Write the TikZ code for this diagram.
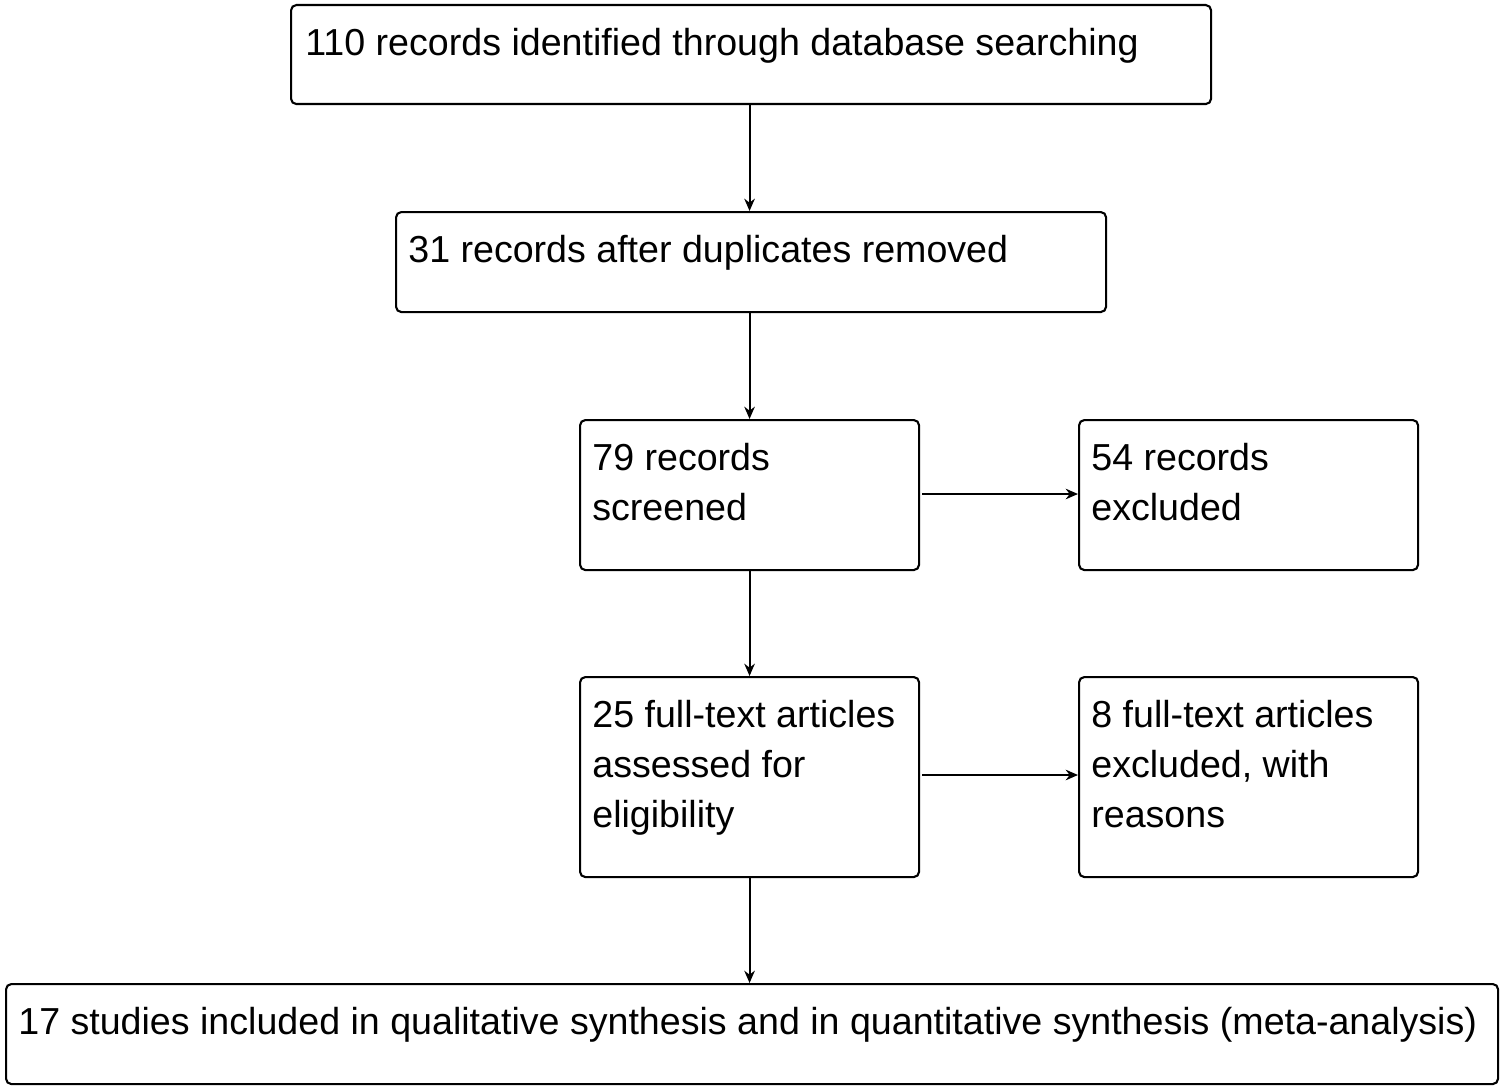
\documentclass[tikz,border=0pt]{standalone}
\usepackage{fontspec}
\setmainfont{Liberation Sans}
\usetikzlibrary{arrows.meta}
\begin{document}
\begin{tikzpicture}[x=0.02cm,y=-0.02cm,
  box/.style={draw,line width=1.2pt,rounded corners=3pt,inner sep=0pt,anchor=north west},
  txt/.style={anchor=north west,inner sep=0pt,align=left,font=\fontsize{21.4}{28.45}\selectfont},
  arr/.style={-{Stealth[length=7pt,width=6pt]},line width=1.2pt}]
\useasboundingbox (0,0) rectangle (1500,1088);
\node[box,minimum width=920*0.02cm,minimum height=99*0.02cm] (b1) at (290,4) {};
\node[box,minimum width=710*0.02cm,minimum height=100*0.02cm] (b2) at (395,211) {};
\node[box,minimum width=339*0.02cm,minimum height=150*0.02cm] (b3) at (579,419) {};
\node[box,minimum width=339*0.02cm,minimum height=150*0.02cm] (b4) at (1078,419) {};
\node[box,minimum width=339*0.02cm,minimum height=200*0.02cm] (b5) at (579,676) {};
\node[box,minimum width=339*0.02cm,minimum height=200*0.02cm] (b6) at (1078,676) {};
\node[box,minimum width=1492*0.02cm,minimum height=100*0.02cm] (b7) at (5,983) {};
\node[txt] (t1) at (305,28) {110 records identified through database searching};
\node[txt] (t2) at (408,235) {31 records after duplicates removed};
\node[txt] (t3) at (592,443) {79 records\\screened};
\node[txt] (t4) at (1091,443) {54 records\\excluded};
\node[txt] (t5) at (592,700) {25 full-text articles\\assessed for\\eligibility};
\node[txt] (t6) at (1091,700) {8 full-text articles\\excluded, with\\reasons};
\node[txt] (t7) at (18,1007) {17 studies included in qualitative synthesis and in quantitative synthesis (meta-analysis)};
\coordinate (h3) at (922,494);
\coordinate (h5) at (922,775);
\draw[arr] (b1.south -| b3.south) -- (b2.north -| b3.south);
\draw[arr] (b2.south -| b3.south) -- (b3.north);
\draw[arr] (b3.south) -- (b5.north);
\draw[arr] (b5.south) -- (b7.north -| b5.south);
\draw[arr] (h3) -- (h3 -| b4.west);
\draw[arr] (h5) -- (h5 -| b6.west);
\end{tikzpicture}
\end{document}
